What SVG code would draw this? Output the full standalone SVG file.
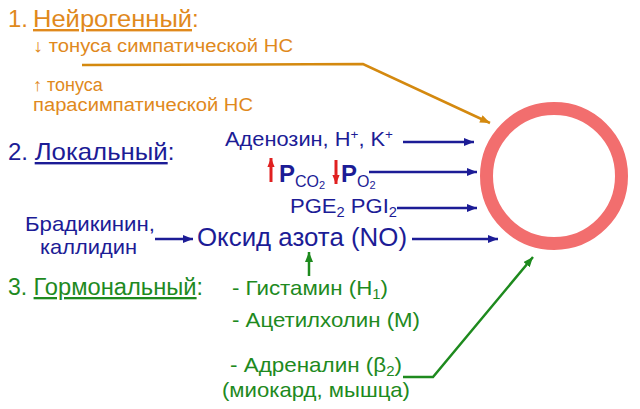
<svg xmlns="http://www.w3.org/2000/svg" width="640" height="409" viewBox="0 0 640 409">
<style>
text{font-family:"Liberation Sans",Arial,sans-serif}
.or{fill:#e0891c}
.bl{fill:#1c1c96}
.gr{fill:#1e8a1e}
.ul{text-decoration:underline}
.lo{stroke:#d4890f;stroke-width:2.5;fill:none}
.lb{stroke:#1c1c96;stroke-width:2.5;fill:none}
.lg{stroke:#1e8a1e;stroke-width:2.5;fill:none}
</style>
<defs>
<marker id="ab" viewBox="0 0 10 8" refX="10" refY="4" markerWidth="10" markerHeight="8" markerUnits="userSpaceOnUse" orient="auto"><path d="M0,0 L10,4 L0,8 Z" fill="#1c1c96"/></marker>
<marker id="ao" viewBox="0 0 10 8" refX="10" refY="4" markerWidth="11" markerHeight="8" markerUnits="userSpaceOnUse" orient="auto"><path d="M0,0 L10,4 L0,8 Z" fill="#d4890f"/></marker>
<marker id="ag" viewBox="0 0 10 8" refX="10" refY="4" markerWidth="10" markerHeight="8" markerUnits="userSpaceOnUse" orient="auto"><path d="M0,0 L10,4 L0,8 Z" fill="#1e8a1e"/></marker>
<marker id="ar" viewBox="0 0 10 8" refX="10" refY="4" markerWidth="9" markerHeight="8" markerUnits="userSpaceOnUse" orient="auto"><path d="M0,0 L10,4 L0,8 Z" fill="#e02020"/></marker>
</defs>

<g id="vessel">
<circle cx="554" cy="176" r="67.5" fill="none" stroke="#f26e6e" stroke-width="13"/>
</g>

<g id="neurogenic">
<text x="8" y="27" font-size="24" class="or">1.<tspan x="33" class="ul" textLength="159" lengthAdjust="spacingAndGlyphs">Нейрогенный</tspan>:</text>
<text x="33" y="52" font-size="18" class="or" textLength="260" lengthAdjust="spacingAndGlyphs">↓ тонуса симпатической НС</text>
<text x="33" y="91" font-size="18" class="or">↑ тонуса</text>
<text x="33" y="111" font-size="18" class="or" textLength="220" lengthAdjust="spacingAndGlyphs">парасимпатической НС</text>
</g>

<g id="local">
<text x="8" y="160" font-size="24" class="bl">2. <tspan class="ul" textLength="133" lengthAdjust="spacingAndGlyphs">Локальный</tspan>:</text>
</g>

<g id="adenosine">
<text x="225" y="146" font-size="21" class="bl" textLength="168" lengthAdjust="spacingAndGlyphs">Аденозин, H<tspan font-size="13" dy="-7">+</tspan><tspan dy="7">, K</tspan><tspan font-size="13" dy="-7">+</tspan></text>
</g>

<g id="gases">
<line x1="271" y1="182" x2="271" y2="158" stroke="#e02020" stroke-width="3" marker-end="url(#ar)"/>
<text x="279" y="182" font-size="24" font-weight="bold" class="bl">P<tspan font-size="16" font-weight="normal" dy="5">CO</tspan><tspan font-size="11" font-weight="normal" dy="2">2</tspan></text>
<line x1="336" y1="160" x2="336" y2="184" stroke="#e02020" stroke-width="3" marker-end="url(#ar)"/>
<text x="341" y="182" font-size="24" font-weight="bold" class="bl">P<tspan font-size="16" font-weight="normal" dy="5">O</tspan><tspan font-size="11" font-weight="normal" dy="2">2</tspan></text>
</g>

<g id="prostaglandins">
<text x="290" y="213" font-size="21" class="bl" textLength="107" lengthAdjust="spacingAndGlyphs">PGE<tspan font-size="14" dy="4">2</tspan><tspan dy="-4"> PGI</tspan><tspan font-size="14" dy="4">2</tspan></text>
</g>

<g id="bradykinin">
<text x="25" y="231" font-size="21" class="bl" textLength="130" lengthAdjust="spacingAndGlyphs">Брадикинин,</text>
<text x="40" y="254" font-size="21" class="bl" textLength="97" lengthAdjust="spacingAndGlyphs">каллидин</text>
</g>

<g id="no">
<text x="197" y="246" font-size="25" class="bl" textLength="210" lengthAdjust="spacingAndGlyphs">Оксид азота (NO)</text>
</g>

<g id="hormonal">
<text x="8" y="295" font-size="23" class="gr">3. <tspan class="ul" textLength="163" lengthAdjust="spacingAndGlyphs">Гормональный</tspan>:</text>
</g>

<g id="histamine">
<text x="232" y="295" font-size="21" class="gr" textLength="156" lengthAdjust="spacingAndGlyphs">- Гистамин (H<tspan font-size="14" dy="4">1</tspan><tspan dy="-4">)</tspan></text>
</g>

<g id="acetylcholine">
<text x="232" y="327" font-size="21" class="gr" textLength="188" lengthAdjust="spacingAndGlyphs">- Ацетилхолин (M)</text>
</g>

<g id="adrenaline">
<text x="230" y="372" font-size="21" class="gr" textLength="172" lengthAdjust="spacingAndGlyphs">- Адреналин (β<tspan font-size="14" dy="4">2</tspan><tspan dy="-4">)</tspan></text>
<text x="222" y="397" font-size="21" class="gr" textLength="188" lengthAdjust="spacingAndGlyphs">(миокард, мышца)</text>
</g>

<g id="connectors">
<polyline class="lo" points="82,65 363,64 490,123" marker-end="url(#ao)"/>
<line class="lb" x1="403" y1="142" x2="474" y2="142" marker-end="url(#ab)"/>
<line class="lb" x1="369" y1="172" x2="477" y2="172" marker-end="url(#ab)"/>
<line class="lb" x1="397" y1="208" x2="477" y2="208" marker-end="url(#ab)"/>
<line class="lb" x1="155" y1="239" x2="193" y2="239" marker-end="url(#ab)"/>
<line class="lb" x1="412" y1="239" x2="498" y2="239" marker-end="url(#ab)"/>
<line class="lg" x1="309" y1="276" x2="309" y2="252" marker-end="url(#ag)"/>
<polyline class="lg" points="403,377 433,377 533,257" marker-end="url(#ag)"/>
</g>
</svg>
